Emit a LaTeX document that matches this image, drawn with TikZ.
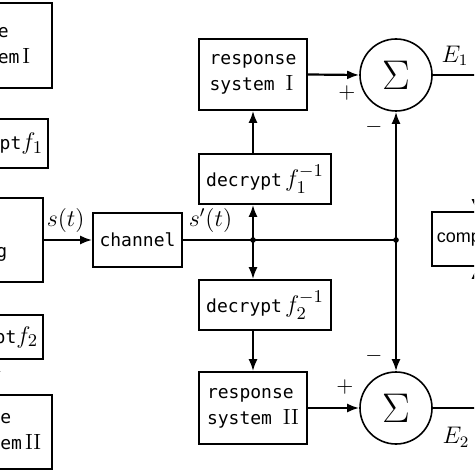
\documentclass[tikz,border=0pt]{standalone}
\usepackage{fontspec}
\setmonofont{DejaVu Sans Mono}
\setsansfont{Liberation Sans}
\usetikzlibrary{arrows.meta,positioning}

\newcommand{\mth}[1]{{\fontsize{13}{15}\selectfont$#1$}}
\newcommand{\numI}{{\rmfamily\fontsize{11}{13}\selectfont I}}
\newcommand{\numII}{{\rmfamily\fontsize{11}{13}\selectfont II}}

\begin{document}
\begin{tikzpicture}[x=0.5pt,y=-0.5pt,
  font=\fontsize{9}{13}\selectfont\ttfamily,
  box/.style={draw,line width=0.8pt,inner sep=0pt,align=left},
  sumnode/.style={draw,circle,line width=0.8pt,minimum size=36pt,inner sep=0pt},
  link/.style={line width=1.1pt,-{Latex[length=6pt,width=4.5pt]}},
  wire/.style={line width=1.1pt},
  sig/.style={font=\fontsize{12}{14}\selectfont},
  sign/.style={font=\fontsize{11}{13}\selectfont}]
\useasboundingbox (0,0) rectangle (474,474);
\clip (0,0) rectangle (474,474);
% left column
\node[box,anchor=east,minimum height=42.5pt,inner xsep=11pt] (drv1) at (53,45.5) {drive\\system\,\numI};
\node[box,anchor=east,minimum height=24.5pt,inner xsep=2.5pt] (enc1) at (49,143.5) {encrypt\mth{f_1}};
\node[box,anchor=east,minimum height=42pt,inner xsep=18pt] (swt) at (44,240) {chaotic\\switching};
\node[box,anchor=east,minimum height=22pt,inner xsep=2.5pt] (enc2) at (44,337) {encrypt\mth{f_2}};
\node[box,anchor=east,minimum height=37pt,inner xsep=5.5pt] (drv2) at (53,432) {drive\\system\,\numII};
% channel and receivers
\node[box,minimum width=44.5pt,minimum height=27pt] (chan) at (137.5,240) {channel};
\node[box,minimum width=54pt,minimum height=35.5pt] (resp1) at (253,74.5) {response\\system \numI};
\node[box,minimum width=66pt,minimum height=25pt] (dec1) at (265,179) {decrypt\,\mth{f_1^{-1}}};
\node[box,minimum width=66pt,minimum height=25pt] (dec2) at (265,305) {decrypt\,\mth{f_2^{-1}}};
\node[box,minimum width=54pt,minimum height=36pt] (resp2) at (253,408) {response\\system \numII};
\node[sumnode] (sum1) at (396,75) {\fontsize{20}{20}\selectfont$\Sigma$};
\node[sumnode] (sum2) at (396,408) {\fontsize{20}{20}\selectfont$\Sigma$};
\node[box,anchor=west,minimum height=27pt,inner xsep=2.5pt,font=\fontsize{9}{11}\selectfont\sffamily] (comp) at (431,239) {comparator};
\coordinate (j1) at (253,240);
\coordinate (j2) at (396,240);
\coordinate (c1) at (476,75);
\coordinate (c2) at (476,408);
% labels
\node[sig] (e1) at (455,56) {$E_1$};
\node[sig] (e2) at (456,437) {$E_2$};
\node[sign] (p1) at (347,93) {$+$};
\node[sign] (m1) at (374,127) {$-$};
\node[sign] (p2) at (345,387) {$+$};
\node[sign] (m2) at (374,356) {$-$};
% connectors
\draw[link] (-20,0 |- drv1.south) -- (-20,0 |- enc1.north);
\draw[link] (-20,0 |- enc1.south) -- (-20,0 |- swt.north);
\draw[link] (-20,0 |- enc2.north) -- (-20,0 |- swt.south);
\draw[link] (-4,0 |- drv2.north) -- (-4,0 |- enc2.south);
\draw[link] (swt.east) -- node[sig,above,pos=0.45]{$s(t)$} (chan.west);
\draw[wire] (chan.east) -- node[sig,above,pos=0.13]{$s'(t)$} (j2);
\draw[link] (j1) -- (j1 |- dec1.south);
\draw[link] (j1) -- (j1 |- dec2.north);
\draw[link] (j1 |- dec1.north) -- (resp1.south);
\draw[link] (j1 |- dec2.south) -- (resp2.north);
\draw[link] (resp1.east) -- (sum1.west);
\draw[link] (resp2.east) -- (sum2.west);
\draw[link] (j2) -- (sum1.south);
\draw[link] (j2) -- (sum2.north);
\draw[link] (sum1.east) -- (c1) -- (c1 |- comp.north);
\draw[link] (sum2.east) -- (c2) -- (c2 |- comp.south);
\fill (j1) circle (1.4pt);
\fill (j2) circle (1.4pt);
\end{tikzpicture}
\end{document}
